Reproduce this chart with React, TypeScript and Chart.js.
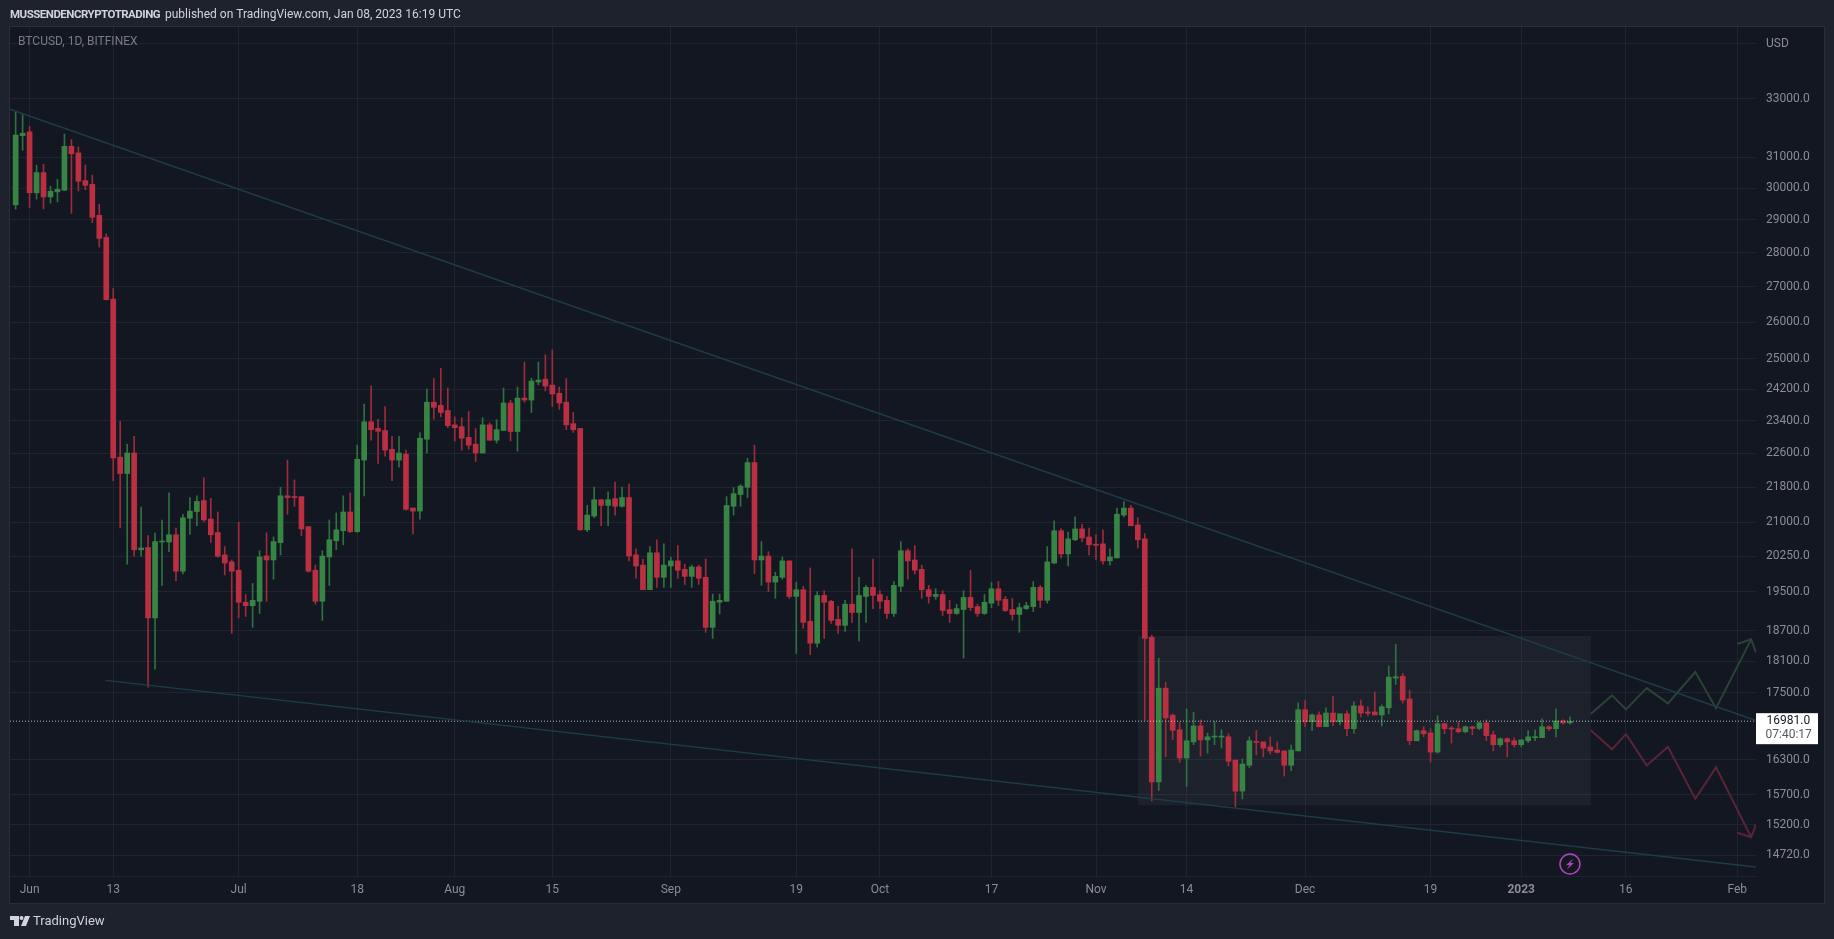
import React, { useEffect, useRef } from 'react';
import { Chart, registerables } from 'chart.js';

Chart.register(...registerables);

// daily BTCUSD candles, first one is 2022-05-30, x axis counts days from there
const opens = [
  29470,31730,31860,29850,30500,29720,29880,29930,31370,31150,30240,30120,29140,28460,26650,
  22510,22120,22610,20390,20440,18960,20560,20560,20720,19930,21090,21240,21490,21070,20770,
  20280,20130,19950,19280,19210,19300,20260,20170,20545,21600,21580,21580,20900,19950,19300,
  20235,20590,20810,21230,20790,22440,23375,23210,23160,22700,22440,22585,21320,21250,22945,
  23870,23790,23660,23300,23255,22990,22825,22610,23300,22920,23160,23850,23135,23975,23925,
  24390,24465,24310,24100,23870,23330,23210,20830,21140,21510,21380,21535,21360,21560,20280,
  20060,19540,20325,19800,20040,20150,19970,19820,20020,19800,18770,19280,19300,21360,21630,
  21800,22380,20170,20255,19700,19800,20150,19400,19540,18890,18455,19420,19300,18930,18810,
  19240,19070,19400,19590,19440,19320,19050,19610,20370,20170,19970,19540,19400,19440,19130,
  19050,19130,19380,19190,19050,19260,19560,19340,19130,19030,19150,19190,19590,19320,20105,
  20810,20300,20610,20850,20670,20500,20520,20150,20215,21160,21320,20940,20630,18570,15915,
  17590,17090,16825,16325,16610,16895,16645,16695,16695,16700,16290,15760,16200,16610,16610,
  16520,16465,16450,16200,16450,17190,16970,17095,16880,17130,16970,17115,16845,17260,17150,
  17150,17095,17225,17780,17815,17390,16630,16810,16770,16430,16935,16855,16845,16790,16880,
  16850,16950,16735,16560,16665,16630,16560,16630,16685,16685,16880,16845,16985,16950,
];
const closes = [
  31750,31810,29850,30500,29720,29900,29960,31370,31120,30220,30090,29080,28430,26630,22490,
  22120,22610,20390,20430,18960,20570,20575,20720,19930,21100,21250,21470,21050,20720,20250,
  20105,19930,19280,19210,19320,20235,20170,20570,21600,21560,21560,20850,19930,19300,20255,
  20610,20830,21230,20790,22460,23375,23180,23140,22680,22440,22610,21290,21250,22970,23870,
  23740,23610,23280,23230,22970,22800,22610,23300,22920,23180,23850,23135,23975,23925,24415,
  24440,24285,24080,23850,23300,23180,20830,21160,21510,21380,21510,21360,21560,20255,20040,
  19540,20325,19800,20060,20150,19950,19820,20020,19780,18770,19300,19320,21380,21650,21825,
  22380,20170,20255,19700,19820,20150,19400,19540,18870,18455,19420,19280,18910,18810,19240,
  19070,19420,19590,19420,19300,19050,19630,20370,20150,19950,19540,19400,19440,19110,19050,
  19150,19380,19170,19050,19280,19560,19320,19110,19030,19170,19210,19590,19320,20130,20810,
  20300,20630,20850,20650,20500,20490,20150,20235,21180,21320,20920,20610,18550,15915,17590,
  17040,16815,16325,16630,16895,16645,16700,16700,16700,16270,15760,16220,16630,16600,16500,
  16450,16425,16200,16465,17190,16970,17095,16880,17130,16970,17115,16845,17260,17130,17125,
  17095,17245,17800,17805,17370,16630,16810,16755,16430,16935,16845,16840,16790,16880,16850,
  16950,16720,16560,16665,16610,16560,16645,16700,16700,16880,16845,16985,16950,16975,
];
const highs = [
  32540,32450,32040,30740,30770,30060,30280,31780,31600,31350,30750,30420,29490,28570,26950,
  23385,22825,23015,21340,20700,20760,21050,21670,20870,21175,21560,21600,22020,21540,21230,
  20460,20170,21000,19440,19670,20370,20765,20670,21800,22440,21970,21580,20900,20060,20370,
  21050,21210,21600,21670,22800,23820,24290,23435,23760,23015,23015,22680,21320,23110,24210,
  24480,24750,24235,23500,23480,23635,23210,23480,23350,23430,24235,23920,24260,24915,24490,
  24915,25110,25240,24260,24480,23610,23210,21380,21800,21510,21690,21920,21800,21870,20410,
  20190,20460,20610,20520,20235,20480,20080,20060,20060,20190,19450,19450,21580,21790,21860,
  22480,22800,20570,20350,19910,20235,20150,19700,19610,20000,19500,19520,19320,19200,19320,
  20410,19800,19630,20190,19520,19400,19710,20570,20410,20480,20060,19630,19560,19520,19320,
  19240,19520,19950,19240,19440,19690,19710,19400,19360,19260,19280,19710,19630,20460,21030,
  20850,20780,21120,20960,20870,20720,20830,20410,21320,21470,21380,21100,20740,18615,18160,
  17700,17110,16965,17205,17145,17005,16765,16981,16825,16755,16290,16310,16700,16815,16610,
  16700,16610,16450,16555,17315,17360,17115,17150,17225,17440,17115,17170,17335,17370,17245,
  17520,17280,18010,18430,17870,17555,16825,16880,16845,17080,16950,16885,16970,16895,16890,
  16970,17005,16800,16685,16685,16685,16645,16810,16825,17025,16895,17205,17005,17060,
];
const lows = [
  29335,31240,29375,29650,29340,29520,29560,29930,29200,29910,29950,28910,28170,26620,21950,
  20875,20080,20250,20250,17610,17950,19630,20350,19730,19870,20730,20920,21010,20550,20230,
  19850,18650,18960,18990,18770,19050,19300,19760,20280,21180,21360,20700,19910,19240,18910,
  19630,20390,20500,20770,20770,21600,22920,22360,22535,21950,22270,21270,20740,21070,22610,
  23440,23500,23230,22900,22680,22700,22405,22610,22920,22850,23160,22900,22655,23870,23610,
  24315,24160,23760,23690,23180,23110,20820,20790,21100,20920,20920,21160,21340,20150,19780,
  19540,19540,19590,19590,19590,19780,19650,19590,19650,18670,18550,19040,19300,21160,21360,
  21560,19880,19630,19500,19360,19760,19360,18255,18750,18230,18380,18550,18850,18650,18690,
  18870,18500,18870,19150,19150,18950,18990,19500,19760,19870,19360,19260,19340,19010,18870,
  19030,18165,19110,18990,19030,19170,19210,19090,18910,18670,19130,19090,19170,19260,20085,
  20215,20040,20590,20570,20280,20170,20080,20060,20215,21120,20920,20430,17000,15595,15770,
  16350,16650,16250,15840,16560,16360,16410,16560,16500,16185,15490,15630,16160,16380,16345,
  16395,16410,16015,16105,16450,16880,16810,16880,16880,16895,16915,16720,16765,17060,17075,
  17095,16895,17115,17660,17310,16560,16630,16700,16255,16410,16755,16590,16770,16770,16735,
  16825,16630,16450,16520,16345,16520,16520,16595,16630,16685,16810,16700,16925,16925,
];

const priceTicks = [35000,33000,31000,30000,29000,28000,27000,26000,25000,24200,23400,22600,21800,21000,20250,19500,18700,18100,17500,16300,15700,15200,14720];
const timeTickDays = [2,14,32,49,63,77,94,112,124,140,155,168,185,203,216,231,247];
const timeTickLabels = ['Jun','13','Jul','18','Aug','15','Sep','19','Oct','17','Nov','14','Dec','19','2023','16','Feb'];

const lastPrice = 16981;

// drawings on the chart: [day, price]
const upperTrend = [[-0.81,32640],[249.69,16993]];
const lowerTrend = [[12.89,17737],[249.69,14533]];
const greenPath = [[225.97,17110],[229.03,17455],[231.04,17196],[234,17592],[237.06,17307],[240.98,17895],[243.95,17219],[249,18531]];
const greenHead = [[247,18438],[249,18531],[249.69,18268]];
const redPath = [[225.97,16820],[229.03,16478],[231.04,16749],[234,16198],[237.06,16523],[240.98,15632],[243.95,16164],[249,15001]];
const redHead = [[247,15075],[249,15001],[249.69,15215]];
const boxDays = [161,226];
const boxPrices = [18600,15522];

const RED = '#bb2f42';
const GREEN = '#388445';
const RED_WICK = '#9c2b3c';
const GREEN_WICK = '#2f7140';
const FONT = 'Roboto';

const toPoints = (pts: number[][]) => pts.map(([x, y]) => ({ x, y }));

const lineSet = (pts: number[][], color: string, width: number) => ({
  type: 'line' as const,
  data: toPoints(pts),
  borderColor: color,
  borderWidth: width,
  pointRadius: 0,
  tension: 0,
  order: 0,
});

const pagePlugin = {
  id: 'page',
  beforeDraw(chart: any) {
    const { ctx } = chart;
    ctx.save();
    ctx.fillStyle = '#1e222d';
    ctx.fillRect(0, 0, 1834, 939);
    ctx.fillStyle = '#131722';
    ctx.fillRect(10, 27, 1814, 876);
    ctx.strokeStyle = '#2a2e39';
    ctx.lineWidth = 1;
    ctx.strokeRect(9.5, 26.5, 1815, 877);
    ctx.restore();
  },
  beforeDatasetsDraw(chart: any) {
    const { ctx, scales } = chart;
    const x0 = scales.x.getPixelForValue(boxDays[0]);
    const x1 = scales.x.getPixelForValue(boxDays[1]);
    const y0 = scales.y.getPixelForValue(boxPrices[0]);
    const y1 = scales.y.getPixelForValue(boxPrices[1]);
    ctx.save();
    ctx.fillStyle = 'rgba(120,123,134,0.1)';
    ctx.fillRect(x0, y0, x1 - x0, y1 - y0);
    ctx.restore();
  },
  afterDraw(chart: any) {
    const { ctx, scales } = chart;
    ctx.save();
    ctx.textBaseline = 'middle';

    // header
    ctx.fillStyle = '#d1d4dc';
    ctx.font = `bold 11.5px ${FONT}`;
    ctx.letterSpacing = '-0.5px';
    ctx.fillText('MUSSENDENCRYPTOTRADING', 10, 15);
    ctx.letterSpacing = '0px';
    ctx.font = `12px ${FONT}`;
    ctx.fillText('published on TradingView.com, Jan 08, 2023 16:19 UTC', 165, 15);

    ctx.fillStyle = '#787b86';
    ctx.font = `12px ${FONT}`;
    ctx.fillText('BTCUSD, 1D, BITFINEX', 18, 42);

    // last price tag
    const py = scales.y.getPixelForValue(lastPrice);
    ctx.fillStyle = '#ffffff';
    ctx.fillRect(1756, py - 8, 62, 31);
    ctx.fillStyle = '#131722';
    ctx.fillText(lastPrice.toFixed(1), 1766.5, py);
    ctx.fillStyle = '#555962';
    ctx.fillText('07:40:17', 1765.5, py + 14);

    // bolt icon
    const bx = scales.x.getPixelForValue(223);
    const by = 864;
    ctx.strokeStyle = '#ab47bc';
    ctx.lineWidth = 1.5;
    ctx.beginPath();
    ctx.arc(bx, by, 10, 0, Math.PI * 2);
    ctx.stroke();
    ctx.fillStyle = '#ab47bc';
    ctx.beginPath();
    ctx.moveTo(bx + 3.5, by - 5.5);
    ctx.lineTo(bx - 4, by + 1);
    ctx.lineTo(bx - 0.5, by + 1);
    ctx.lineTo(bx - 3, by + 5.5);
    ctx.lineTo(bx + 4, by - 1);
    ctx.lineTo(bx + 0.5, by - 1);
    ctx.closePath();
    ctx.fill();

    // footer logo
    ctx.fillStyle = '#d1d4dc';
    ctx.fillRect(10, 916, 9, 4);
    ctx.fillRect(14, 916, 5, 10);
    ctx.beginPath();
    ctx.arc(21.5, 918, 2, 0, Math.PI * 2);
    ctx.fill();
    ctx.beginPath();
    ctx.moveTo(25, 916);
    ctx.lineTo(30, 916);
    ctx.lineTo(26, 926);
    ctx.lineTo(21, 926);
    ctx.closePath();
    ctx.fill();
    ctx.font = `13px ${FONT}`;
    ctx.fillText('TradingView', 33, 922);
    ctx.restore();
  },
};

const App: React.FC = () => {
  const canvasRef = useRef<HTMLCanvasElement | null>(null);

  useEffect(() => {
    const canvas = canvasRef.current;
    if (!canvas) return;
    document.body.style.margin = '0';

    const colors = closes.map((c, i) => (c >= opens[i] ? GREEN : RED));
    const wickColors = closes.map((c, i) => (c >= opens[i] ? GREEN_WICK : RED_WICK));

    const chart = new Chart(canvas, {
      type: 'bar',
      data: {
        datasets: [
          lineSet(upperTrend, '#1e3c48', 1.5),
          lineSet(lowerTrend, '#1e3c48', 1.5),
          lineSet(greenPath, '#2b4237', 2),
          lineSet(greenHead, '#2b4237', 2),
          lineSet(redPath, '#5a2436', 2),
          lineSet(redHead, '#5a2436', 2),
          {
            ...lineSet([[-0.81, lastPrice], [249.69, lastPrice]], 'rgba(215,225,230,0.8)', 1),
            borderDash: [1, 2],
          },
          {
            type: 'bar' as const,
            data: opens.map((o, i) => ({ x: i, y: [o, closes[i]] })),
            backgroundColor: colors,
            barThickness: 5,
            minBarLength: 1,
            grouped: false,
            order: 1,
          },
          {
            type: 'bar' as const,
            data: lows.map((l, i) => ({ x: i, y: [l, highs[i]] })),
            backgroundColor: wickColors,
            barThickness: 1,
            grouped: false,
            order: 2,
          },
        ] as any,
      },
      options: {
        responsive: false,
        animation: false,
        events: [],
        layout: { padding: { left: 10, top: 27, right: 10, bottom: 36 } },
        plugins: { legend: { display: false }, tooltip: { enabled: false } },
        scales: {
          x: {
            type: 'linear',
            offset: false,
            min: -0.81,
            max: 249.69,
            afterFit: (s: any) => { s.height = 27; },
            afterBuildTicks: (s: any) => { s.ticks = timeTickDays.map((value) => ({ value })); },
            grid: { color: '#1f2430', offset: false, drawTicks: false },
            border: { display: true, color: '#1f2430' },
            ticks: {
              autoSkip: false,
              maxRotation: 0,
              padding: 7,
              color: '#8a8d96',
              font: (c: any) => ({ family: FONT, size: 12, weight: c.tick && c.tick.value === 216 ? 'bold' : 'normal' }),
              callback: (v: any) => timeTickLabels[timeTickDays.indexOf(Number(v))],
            },
          },
          y: {
            type: 'logarithmic',
            position: 'right',
            min: 14394,
            max: 35630,
            afterFit: (s: any) => { s.width = 68; },
            afterBuildTicks: (s: any) => { s.ticks = priceTicks.map((value) => ({ value })); },
            grid: { color: '#1f2430', drawTicks: false },
            border: { display: false },
            ticks: {
              autoSkip: false,
              padding: 10,
              color: '#8a8d96',
              font: { family: FONT, size: 12 },
              callback: (v: any) => (Number(v) === 35000 ? 'USD' : Number(v).toFixed(1)),
            },
          },
        },
      },
      plugins: [pagePlugin],
    });

    return () => chart.destroy();
  }, []);

  return <canvas ref={canvasRef} width={1834} height={939} style={{ display: 'block' }} />;
};

export default App;
